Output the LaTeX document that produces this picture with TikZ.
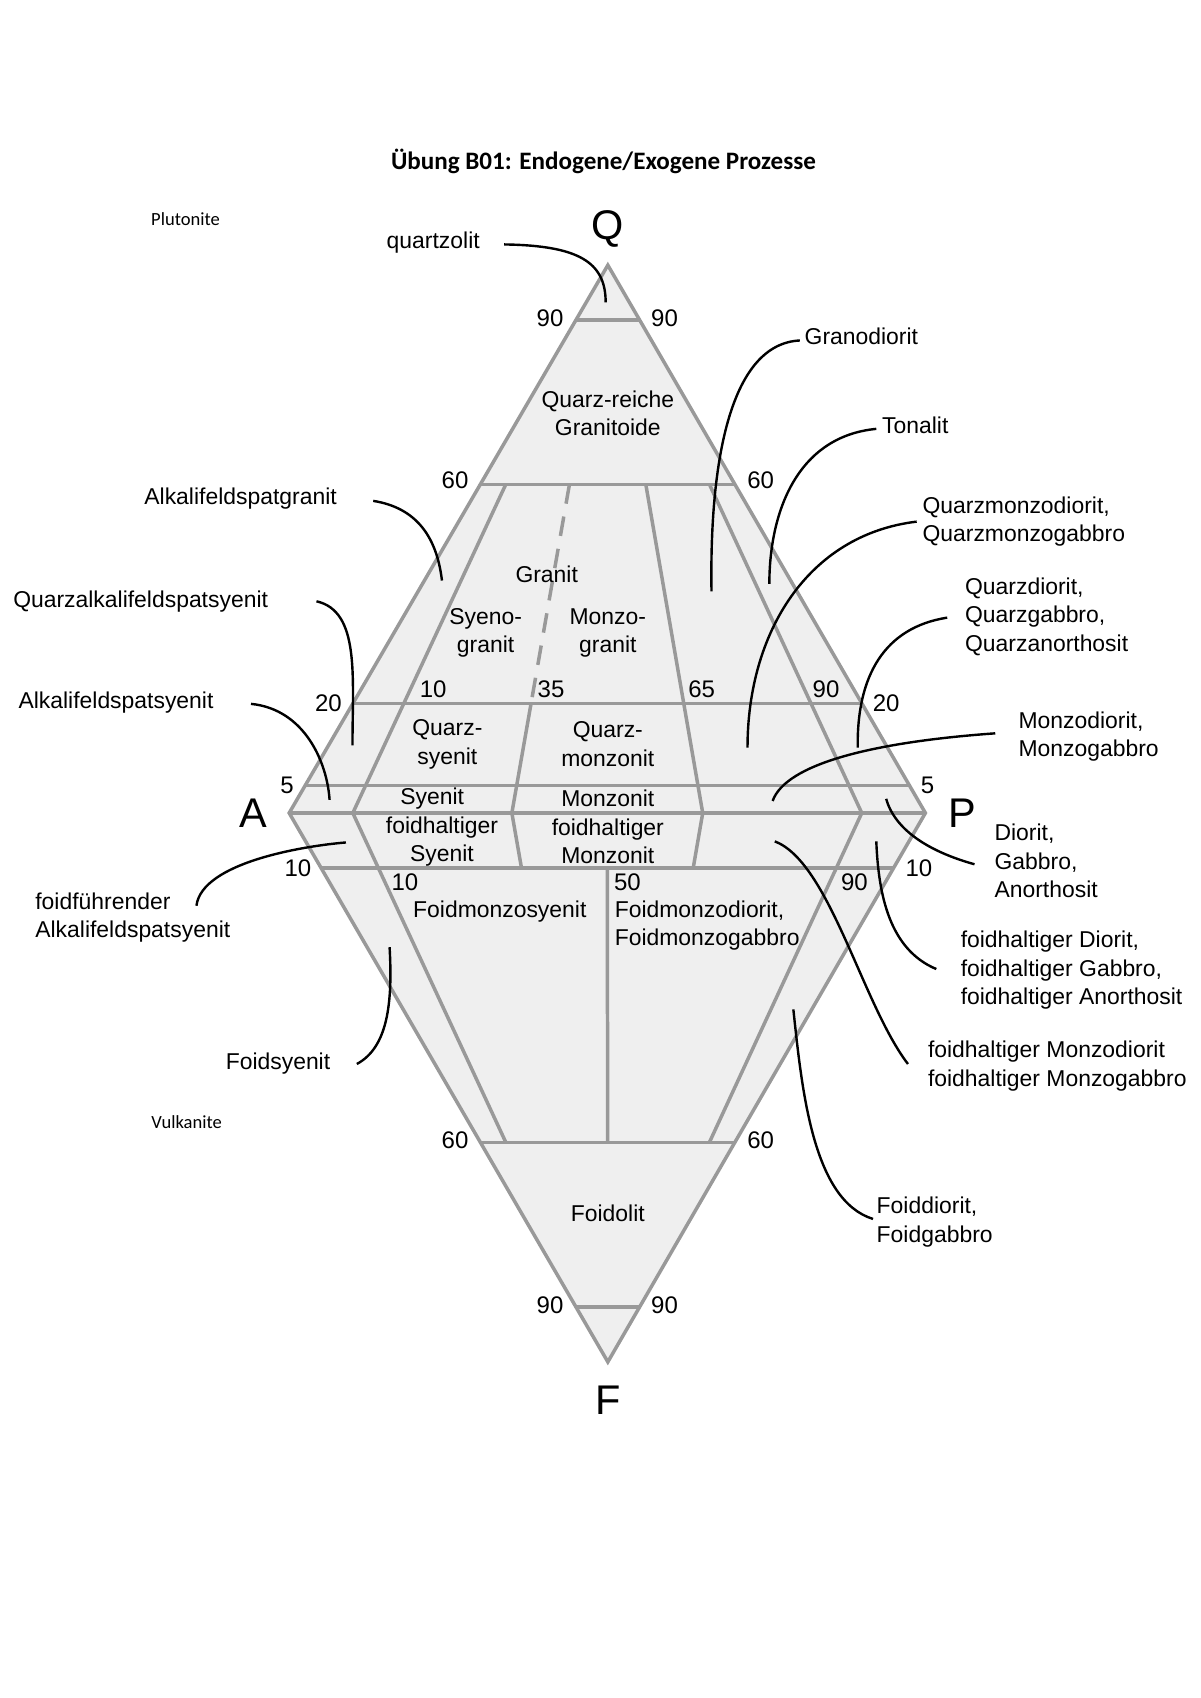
\documentclass[tikz,border=0pt]{standalone}
\usepackage{fontspec}
\setmainfont{Liberation Sans}
\newfontfamily\carlitofont{Carlito}
\usetikzlibrary{calc}
\definecolor{fillg}{HTML}{EFEFEF}
\definecolor{lineg}{HTML}{999999}
\begin{document}
\begin{tikzpicture}[x=0.5pt,y=-0.5pt,
  gl/.style={draw=lineg,line width=1.6pt},
  lead/.style={draw=black,line width=1.1pt},
  lab/.style={font=\fontsize{10.5}{13}\selectfont,align=center,inner sep=1pt},
  num/.style={font=\fontsize{11}{13}\selectfont,inner sep=0pt},
  vtx/.style={font=\fontsize{19}{20}\selectfont,inner sep=0pt}]
\useasboundingbox (0,0) rectangle (1100,1556);
\fill[white] (0,0) rectangle (1100,1556);
\coordinate (Q) at (557,243);
\coordinate (A) at (265,745);
\coordinate (P) at (848,745);
\coordinate (F) at (557,1248);
\fill[fillg] (Q)--(P)--(F)--(A)--cycle;
\foreach \p/\n in {0.1/10,0.35/35,0.5/50,0.65/65,0.9/90}{\coordinate (b\n) at ($(A)!\p!(P)$);}
% horizontal lines
\foreach \t in {0.1,0.4,0.8,0.95}{\draw[gl] ($(Q)!\t!(A)$)--($(Q)!\t!(P)$);}
\foreach \t in {0.9,0.4,0.1}{\draw[gl] ($(F)!\t!(A)$)--($(F)!\t!(P)$);}
\draw[gl] (A)--(P);
% rays
\foreach \n in {10,65,90}{\draw[gl] ($(Q)!0.4!(b\n)$)--(b\n);}
\draw[gl,dashed,dash pattern=on 9pt off 6pt] ($(Q)!0.4!(b35)$)--($(Q)!0.8!(b35)$);
\draw[gl] ($(Q)!0.8!(b35)$)--(b35);
\foreach \n in {10,35,65,90}{\draw[gl] (b\n)--($(b\n)!0.1!(F)$);}
\foreach \n in {10,50,90}{\draw[gl] ($(b\n)!0.1!(F)$)--($(b\n)!0.6!(F)$);}
\draw[gl] (Q)--(P)--(F)--(A)--cycle;
% vertex labels
\node[vtx] (lQ) at (557,210) {Q};
\node[vtx] (lA) at (232,745) {A};
\node[vtx] (lP) at (882,745) {P};
\node[vtx] (lF) at (557,1283) {F};
% numbers
\foreach \x/\y/\t [count=\i] in {504/292/90,609/292/90,417/440/60,697/440/60,301/644/20,812/644/20,263/720/5,850/720/5,273/796/10,842/796/10,417/1045/60,697/1045/60,504/1196/90,609/1196/90,397/632/10,505/632/35,643/632/65,757/632/90,371/808/10,575/808/50,783/808/90}
  {\node[num] (n\i) at (\x,\y) {\t};}
% region labels
\node[lab] (r1) at (557,379) {Quarz-reiche\\Granitoide};
\node[lab] (r2) at (501,526) {Granit};
\node[lab] (r3) at (445,580) {Syeno-\\granit};
\node[lab] (r4) at (557,580) {Monzo-\\granit};
\node[lab] (r5) at (410,682) {Quarz-\\syenit};
\node[lab] (r6) at (557,682) {Quarz-\\monzonit};
\node[lab] (r7) at (396,732) {Syenit};
\node[lab] (r8) at (557,732) {Monzonit};
\node[lab] (r9) at (405,771) {foidhaltiger\\Syenit};
\node[lab] (r10) at (557,771) {foidhaltiger\\Monzonit};
\node[lab] (r11) at (458,835) {Foidmonzosyenit};
\node[lab,align=left,anchor=west] (r12) at (561,848) {Foidmonzodiorit,\\Foidmonzogabbro};
\node[lab] (r13) at (557,1112) {Foidolit};
% titles
\node[font=\carlitofont\bfseries\fontsize{11.5}{13}\selectfont] (title) at (553,148) {Übung B01: Endogene/Exogene Prozesse};
\node[font=\carlitofont\fontsize{8.5}{10}\selectfont] (plu) at (170,201) {Plutonite};
\node[font=\carlitofont\fontsize{8.5}{10}\selectfont] (vul) at (171,1028) {Vulkanite};
% outer labels
\node[lab,anchor=east] (t1) at (442,222) {quartzolit};
\node[lab,anchor=west] (t2) at (735,308) {Granodiorit};
\node[lab,anchor=west] (t3) at (806,390) {Tonalit};
\node[lab,anchor=west,align=left] (t4) at (843,478) {Quarzmonzodiorit,\\Quarzmonzogabbro};
\node[lab,anchor=west,align=left] (t5) at (882,565) {Quarzdiorit,\\Quarzgabbro,\\Quarzanorthosit};
\node[lab,anchor=west,align=left] (t6) at (931,675) {Monzodiorit,\\Monzogabbro};
\node[lab,anchor=west,align=left] (t7) at (909,789) {Diorit,\\Gabbro,\\Anorthosit};
\node[lab,anchor=west,align=left] (t8) at (878,889) {foidhaltiger Diorit,\\foidhaltiger Gabbro,\\foidhaltiger Anorthosit};
\node[lab,anchor=west,align=left] (t9) at (848,977) {foidhaltiger Monzodiorit\\foidhaltiger Monzogabbro};
\node[lab,anchor=west,align=left] (t10) at (801,1120) {Foiddiorit,\\Foidgabbro};
\node[lab,anchor=east] (t11) at (311,457) {Alkalifeldspatgranit};
\node[lab,anchor=east] (t12) at (248,551) {Quarzalkalifeldspatsyenit};
\node[lab,anchor=east] (t13) at (198,644) {Alkalifeldspatsyenit};
\node[lab,anchor=west,align=left] (t14) at (30,841) {foidführender\\Alkalifeldspatsyenit};
\node[lab,anchor=east] (t15) at (305,975) {Foidsyenit};
% leader end points
\coordinate (e1) at (555,277);
\coordinate (e2) at (652,542);
\coordinate (e3) at (705,535);
\coordinate (e4) at (685,685);
\coordinate (e5) at (786,685);
\coordinate (e6) at (708,734);
\coordinate (e7) at (812,732);
\coordinate (e8) at (803,771);
\coordinate (e9) at (710,771);
\coordinate (e10) at (727,925);
\coordinate (e11) at (405,532);
\coordinate (e12) at (323,683);
\coordinate (e13) at (302,733);
\coordinate (e14) at (317,772);
\coordinate (e15) at (357,868);
\coordinate (s14) at (180,830);
% leaders
\draw[lead] (462,224) .. controls (530,225) and (555,240) .. (e1);
\draw[lead] (733,312) .. controls (670,315) and (650,420) .. (e2);
\draw[lead] (803,393) .. controls (730,400) and (705,470) .. (e3);
\draw[lead] (840,478) .. controls (740,490) and (685,580) .. (e4);
\draw[lead] (868,566) .. controls (810,575) and (785,620) .. (e5);
\draw[lead] (912,672) .. controls (800,680) and (720,700) .. (e6);
\draw[lead] (893,792) .. controls (850,780) and (820,760) .. (e7);
\draw[lead] (858,888) .. controls (815,870) and (805,820) .. (e8);
\draw[lead] (832,975) .. controls (790,920) and (760,790) .. (e9);
\draw[lead] (800,1117) .. controls (745,1100) and (735,1000) .. (e10);
\draw[lead] (342,459) .. controls (380,465) and (400,490) .. (e11);
\draw[lead] (290,551) .. controls (330,560) and (323,620) .. (e12);
\draw[lead] (230,645) .. controls (280,650) and (300,700) .. (e13);
\draw[lead] (s14) .. controls (185,790) and (280,775) .. (e14);
\draw[lead] (327,975) .. controls (355,960) and (360,920) .. (e15);
\end{tikzpicture}
\end{document}
